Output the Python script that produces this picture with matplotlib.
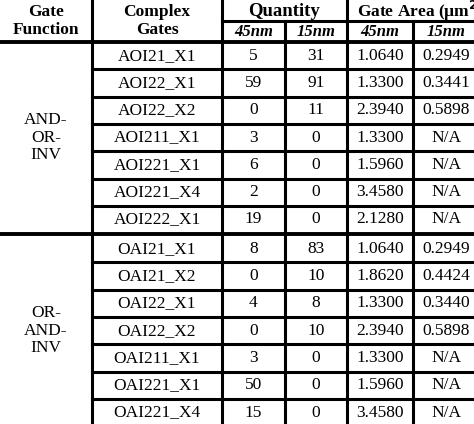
import matplotlib
matplotlib.use("Agg")
from matplotlib import pyplot as plt

# Table contents
gates = ['AOI21_X1', 'AOI22_X1', 'AOI22_X2', 'AOI211_X1', 'AOI221_X1', 'AOI221_X4', 'AOI222_X1',
         'OAI21_X1', 'OAI21_X2', 'OAI22_X1', 'OAI22_X2', 'OAI211_X1', 'OAI221_X1', 'OAI221_X4']
qty45 = ['5', '59', '0', '3', '6', '2', '19', '8', '0', '4', '0', '3', '50', '15']
qty15 = ['31', '91', '11', '0', '0', '0', '0', '83', '10', '8', '10', '0', '0', '0']
area45 = ['1.0640', '1.3300', '2.3940', '1.3300', '1.5960', '3.4580', '2.1280',
          '1.0640', '1.8620', '1.3300', '2.3940', '1.3300', '1.5960', '3.4580']
area15 = ['0.2949', '0.3441', '0.5898', 'N/A', 'N/A', 'N/A', 'N/A',
          '0.2949', '0.4424', '0.3440', '0.5898', 'N/A', 'N/A', 'N/A']
groups = ['AND-\nOR-\nINV', 'OR-\nAND-\nINV']

plt.rcParams['font.family'] = ['Liberation Serif', 'DejaVu Serif']
fig = plt.figure(figsize=(4.74, 4.24), dpi=100)
ax = fig.add_axes([0, 0, 1, 1])
ax.set_xlim(0, 474)
ax.set_ylim(424, 0)
ax.axis('off')

xs = [0, 92, 222, 285, 347, 413, 480]
top_body = 42
rh = 27.3
fs = 12.5
lw = 2.2

# header
ax.text(46, 21, 'Gate\nFunction', ha='center', va='center', fontsize=fs, fontweight='bold', linespacing=1.15)
ax.text(157, 21, 'Complex\nGates', ha='center', va='center', fontsize=fs, fontweight='bold', linespacing=1.15)
ax.text(284.5, 11, 'Quantity', ha='center', va='center', fontsize=fs + 1, fontweight='bold')
ax.text(357, 11, 'Gate Area (µm$^\\mathbf{2}$)', ha='left', va='center', fontsize=fs, fontweight='bold', clip_on=True)
for i, sub in enumerate(['45nm', '15nm', '45nm', '15nm']):
    ax.text((xs[i + 2] + xs[i + 3]) / 2, 32, sub, ha='center', va='center', fontsize=fs - 0.5,
            fontweight='bold', style='italic')

# body
for r, row in enumerate(zip(gates, qty45, qty15, area45, area15)):
    yc = top_body + rh * (r + 0.5) + (2 if r >= 7 else 0)
    for c, val in enumerate(row):
        ax.text((xs[c + 1] + xs[c + 2]) / 2, yc, val, ha='center', va='center', fontsize=fs, clip_on=True)

ax.text(46, top_body + rh * 3.5, groups[0], ha='center', va='center', fontsize=fs, linespacing=1.1)
ax.text(46, top_body + rh * 10.5 + 2, groups[1], ha='center', va='center', fontsize=fs, linespacing=1.1)

# grid lines
for x in xs[1:6]:
    y0 = 21 if x in (285, 413) else 0
    ax.plot([x, x], [y0, 424], color='black', lw=lw)
ax.plot([222, 474], [21, 21], color='black', lw=lw)
ax.plot([0, 474], [top_body, top_body], color='black', lw=lw + 0.6)
split = top_body + rh * 7 + 1
ax.plot([0, 474], [split, split], color='black', lw=lw + 0.6)
for r in range(1, 14):
    if r == 7:
        continue
    y = top_body + rh * r + (2 if r > 7 else 0)
    ax.plot([92, 474], [y, y], color='black', lw=lw)

fig.savefig('out.png', dpi=100)
